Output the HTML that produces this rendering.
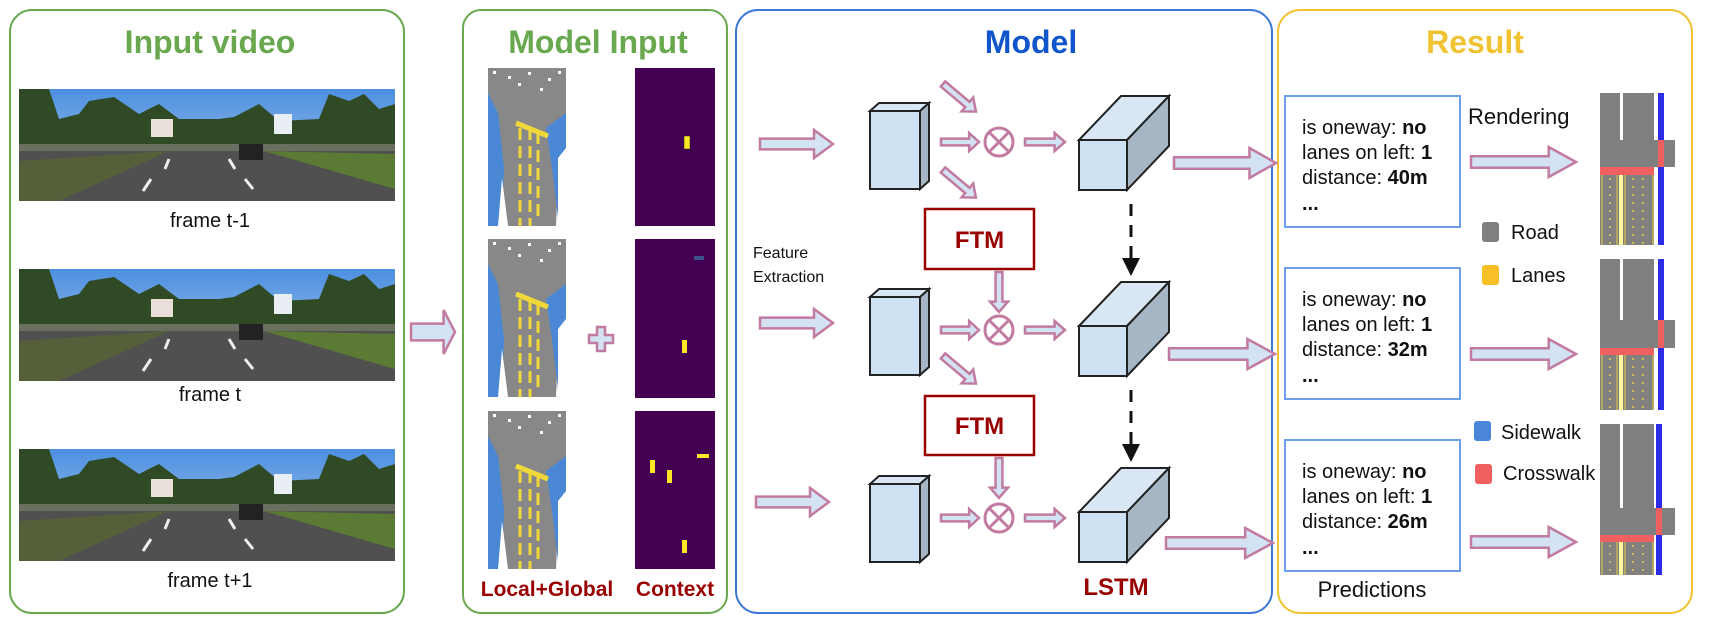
<!DOCTYPE html>
<html><head><meta charset="utf-8"><style>
html,body{margin:0;padding:0;background:#fff;}
svg{display:block;}
text{font-family:"Liberation Sans",sans-serif;}
</style></head><body>
<svg width="1724" height="617" viewBox="0 0 1724 617" xmlns="http://www.w3.org/2000/svg">
<defs>
<path id="ar" d="M0,-0.38 H0.74 V-1 L1,0 L0.74,1 V0.38 H0 Z" fill="#d3e3f3" stroke="#c27ba0" stroke-width="2.5" vector-effect="non-scaling-stroke"/>
<linearGradient id="sky" x1="0" y1="0" x2="0" y2="1"><stop offset="0" stop-color="#4d8fe0"/><stop offset="1" stop-color="#b9d3ee"/></linearGradient>
<g id="photo">
<rect width="376" height="112" fill="url(#sky)"/>
<path d="M0,0 H30 L40,30 L60,25 L70,12 L95,8 L120,25 L140,15 L160,30 L200,30 L215,28 L240,15 L260,32 L300,30 L310,5 L330,12 L345,5 L360,20 L376,15 V75 H0Z" fill="#2f4a25"/>
<rect x="132" y="30" width="22" height="18" fill="#e8e0d8"/>
<rect x="255" y="25" width="18" height="20" fill="#e8eef4"/>
<rect x="0" y="55" width="376" height="10" fill="#6a7060"/>
<path d="M0,62 H376 V112 H0Z" fill="#505050"/>
<path d="M0,72 L150,62 L40,112 H0Z" fill="#55603a"/>
<path d="M245,62 L376,65 V100 Z" fill="#5b7a33"/>
<path d="M150,70 L146,80 M132,90 L124,102 M210,70 L216,80 M226,90 L234,100" stroke="#eee" stroke-width="3"/>
<rect x="220" y="55" width="24" height="16" fill="#222"/>
</g>
<g id="lmap">
<rect width="78" height="158" fill="#fff"/>
<path d="M0,0 H78 V50 L72,70 L68,158 H0 Z" fill="#888"/>
<path d="M0,25 L10,45 L16,100 L14,158 H0Z" fill="#4a88d6"/>
<path d="M58,60 L78,45 V140 L70,150 L64,100Z" fill="#4a88d6"/>
<path d="M70,90 L78,80 V158 H70Z" fill="#fff"/>
<path d="M14,110 L20,158 H10Z" fill="#fff"/>
<path d="M5,3 h3 v3 h-3z M20,8 h3 v3 h-3z M40,4 h3 v3 h-3z M60,10 h3 v3 h-3z M70,3 h3 v3 h-3z M30,15 h3 v3 h-3z M52,20 h3 v3 h-3z" fill="#fff"/>
<path d="M28,55 L60,68" stroke="#f0d83a" stroke-width="5"/>
<path d="M32,60 V158 M42,60 V158 M50,64 V150" stroke="#f0d83a" stroke-width="3" stroke-dasharray="12,6"/>
</g>
<g id="cube">
<path d="M0,0 L9,-8 H59 L50,0Z" fill="#d9e7f5" stroke="#222" stroke-width="2"/>
<path d="M50,0 L59,-8 V70 L50,78Z" fill="#a6b6c5" stroke="#222" stroke-width="2"/>
<rect x="0" y="0" width="50" height="78" fill="#cfe2f3" stroke="#222" stroke-width="2"/>
</g>
<g id="lcube">
<path d="M0,0 L42,-44 H90 L48,0Z" fill="#d9e7f5" stroke="#222" stroke-width="2"/>
<path d="M48,0 L90,-44 V6 L48,50Z" fill="#a6b6c5" stroke="#222" stroke-width="2"/>
<rect x="0" y="0" width="48" height="50" fill="#cfe2f3" stroke="#222" stroke-width="2"/>
</g>
<g id="otimes"><circle r="14" fill="#fff" stroke="#c27ba0" stroke-width="3"/><path d="M-10,-10 L10,10 M10,-10 L-10,10" stroke="#c27ba0" stroke-width="3"/></g>
</defs>

<rect x="10" y="10" width="394" height="603" rx="22" fill="none" stroke="#6aa84f" stroke-width="2"/>
<rect x="463" y="10" width="264" height="603" rx="18" fill="none" stroke="#6aa84f" stroke-width="2"/>
<rect x="736" y="10" width="536" height="603" rx="22" fill="none" stroke="#3c78d8" stroke-width="2"/>
<rect x="1278" y="10" width="414" height="603" rx="22" fill="none" stroke="#f1c232" stroke-width="2"/>

<text x="210" y="53" font-size="32" font-weight="bold" fill="#6aa84f" text-anchor="middle">Input video</text>
<text x="598" y="53" font-size="32" font-weight="bold" fill="#6aa84f" text-anchor="middle">Model Input</text>
<text x="1031" y="53" font-size="32" font-weight="bold" fill="#1155cc" text-anchor="middle">Model</text>
<text x="1475" y="53" font-size="32" font-weight="bold" fill="#f1c232" text-anchor="middle">Result</text>

<use href="#photo" transform="translate(19,89)"/>
<use href="#photo" transform="translate(19,269)"/>
<use href="#photo" transform="translate(19,449)"/>
<text x="210" y="227" font-size="20" text-anchor="middle" fill="#111">frame t-1</text>
<text x="210" y="401" font-size="20" text-anchor="middle" fill="#111">frame t</text>
<text x="210" y="587" font-size="20" text-anchor="middle" fill="#111">frame t+1</text>
<use href="#ar" transform="translate(411,332) scale(44,22)"/>

<use href="#lmap" transform="translate(488,68)"/>
<use href="#lmap" transform="translate(488,239)"/>
<use href="#lmap" transform="translate(488,411)"/>
<rect x="635" y="68" width="80" height="158" fill="#440154"/>
<rect x="635" y="239" width="80" height="159" fill="#440154"/>
<rect x="635" y="411" width="80" height="158" fill="#440154"/>
<rect x="684" y="136" width="6" height="13" fill="#fde725" stroke="#222" stroke-width="0.5"/>
<rect x="694" y="256" width="10" height="4" fill="#3b528b"/>
<rect x="682" y="340" width="5" height="13" fill="#fde725"/>
<rect x="697" y="454" width="12" height="4" fill="#fde725"/>
<rect x="650" y="460" width="5" height="13" fill="#fde725"/>
<rect x="667" y="470" width="5" height="13" fill="#fde725"/>
<rect x="682" y="540" width="5" height="13" fill="#fde725"/>
<path d="M597,327 h8 v8 h8 v8 h-8 v8 h-8 v-8 h-8 v-8 h8 Z" fill="#d3e3f3" stroke="#c27ba0" stroke-width="2.5"/>
<text x="547" y="596" font-size="21" font-weight="bold" fill="#990000" text-anchor="middle">Local+Global</text>
<text x="675" y="596" font-size="21" font-weight="bold" fill="#990000" text-anchor="middle">Context</text>

<use href="#ar" transform="translate(760,144) scale(73,14)"/>
<use href="#ar" transform="translate(760,323) scale(73,14)"/>
<use href="#ar" transform="translate(756,502) scale(73,14)"/>
<text x="753" y="258" font-size="16" fill="#111">Feature</text>
<text x="753" y="282" font-size="16" fill="#111">Extraction</text>

<use href="#cube" transform="translate(870,111)"/>
<use href="#cube" transform="translate(870,297)"/>
<use href="#cube" transform="translate(870,484)"/>

<use href="#ar" transform="translate(941,142) scale(38,9)"/>
<use href="#ar" transform="translate(1025,142) scale(40,9)"/>
<use href="#ar" transform="translate(941,330) scale(38,9)"/>
<use href="#ar" transform="translate(1025,330) scale(40,9)"/>
<use href="#ar" transform="translate(941,518) scale(38,9)"/>
<use href="#ar" transform="translate(1025,518) scale(40,9)"/>
<use href="#ar" transform="translate(943,84) rotate(40) scale(43,9)"/>
<use href="#ar" transform="translate(943,170) rotate(40) scale(43,9)"/>
<use href="#ar" transform="translate(943,356) rotate(40) scale(43,9)"/>
<use href="#ar" transform="translate(999,272) rotate(90) scale(40,9)"/>
<use href="#ar" transform="translate(999,458) rotate(90) scale(40,9)"/>
<use href="#otimes" transform="translate(999,142)"/>
<use href="#otimes" transform="translate(999,330)"/>
<use href="#otimes" transform="translate(999,518)"/>

<rect x="925" y="209" width="109" height="60" fill="#fff" stroke="#990000" stroke-width="2.5"/>
<text x="979.5" y="248" font-size="24" font-weight="bold" fill="#990000" text-anchor="middle">FTM</text>
<rect x="925" y="396" width="109" height="59" fill="#fff" stroke="#990000" stroke-width="2.5"/>
<text x="979.5" y="434" font-size="24" font-weight="bold" fill="#990000" text-anchor="middle">FTM</text>

<use href="#lcube" transform="translate(1079,140)"/>
<use href="#lcube" transform="translate(1079,326)"/>
<use href="#lcube" transform="translate(1079,512)"/>
<path d="M1131,204 V258 M1131,390 V444" stroke="#111" stroke-width="3" stroke-dasharray="12,9"/>
<path d="M1122,258 H1140 L1131,276Z M1122,444 H1140 L1131,462Z" fill="#111"/>
<text x="1116" y="595" font-size="24" font-weight="bold" fill="#990000" text-anchor="middle">LSTM</text>

<use href="#ar" transform="translate(1174,163) scale(102,15)"/>
<use href="#ar" transform="translate(1169,354) scale(106,15)"/>
<use href="#ar" transform="translate(1166,543) scale(107,15)"/>

<g font-size="20" fill="#111">
<rect x="1285" y="96" width="175" height="131" fill="#fff" stroke="#6d9eeb" stroke-width="2"/>
<text x="1302" y="134">is oneway: <tspan font-weight="bold">no</tspan></text>
<text x="1302" y="159">lanes on left: <tspan font-weight="bold">1</tspan></text>
<text x="1302" y="184">distance: <tspan font-weight="bold">40m</tspan></text>
<text x="1302" y="210" font-weight="bold">...</text>
<rect x="1285" y="268" width="175" height="131" fill="#fff" stroke="#6d9eeb" stroke-width="2"/>
<text x="1302" y="306">is oneway: <tspan font-weight="bold">no</tspan></text>
<text x="1302" y="331">lanes on left: <tspan font-weight="bold">1</tspan></text>
<text x="1302" y="356">distance: <tspan font-weight="bold">32m</tspan></text>
<text x="1302" y="382" font-weight="bold">...</text>
<rect x="1285" y="440" width="175" height="131" fill="#fff" stroke="#6d9eeb" stroke-width="2"/>
<text x="1302" y="478">is oneway: <tspan font-weight="bold">no</tspan></text>
<text x="1302" y="503">lanes on left: <tspan font-weight="bold">1</tspan></text>
<text x="1302" y="528">distance: <tspan font-weight="bold">26m</tspan></text>
<text x="1302" y="554" font-weight="bold">...</text>
</g>
<text x="1468" y="124" font-size="22" fill="#111">Rendering</text>
<text x="1372" y="597" font-size="22" fill="#111" text-anchor="middle">Predictions</text>
<use href="#ar" transform="translate(1471,162) scale(105,15)"/>
<use href="#ar" transform="translate(1471,354) scale(105,15)"/>
<use href="#ar" transform="translate(1471,542) scale(105,15)"/>

<g font-size="20" fill="#111">
<rect x="1482" y="222" width="17" height="20" rx="3" fill="#808080"/><text x="1511" y="239">Road</text>
<rect x="1482" y="265" width="17" height="20" rx="3" fill="#f6c026"/><text x="1511" y="282">Lanes</text>
<rect x="1474" y="421" width="17" height="20" rx="3" fill="#4a86d8"/><text x="1501" y="439">Sidewalk</text>
<rect x="1475" y="464" width="17" height="20" rx="3" fill="#f06060"/><text x="1503" y="480">Crosswalk</text>
</g>

<g>
<rect x="1600" y="93" width="54" height="152" fill="#808080"/>
<rect x="1620" y="93" width="3" height="47" fill="#fff"/>
<rect x="1658" y="93" width="6" height="152" fill="#2b2be8"/>
<rect x="1654" y="140" width="21" height="27" fill="#808080"/>
<rect x="1658" y="140" width="6" height="27" fill="#f06060"/>
<rect x="1600" y="167" width="54" height="8" fill="#f06060"/>
<rect x="1619" y="175" width="4" height="70" fill="#fff8a0"/>
<path d="M1602,175 V245 M1653,175 V245 M1617,175 V245 M1625,175 V245" stroke="#e8d040" stroke-width="1"/>
<path d="M1610,178 V245 M1633,178 V245 M1643,178 V245" stroke="#e8d040" stroke-width="1.5" stroke-dasharray="2,6"/>
</g>
<g>
<rect x="1600" y="259" width="54" height="151" fill="#808080"/>
<rect x="1620" y="259" width="3" height="61" fill="#fff"/>
<rect x="1658" y="259" width="6" height="151" fill="#2b2be8"/>
<rect x="1654" y="320" width="21" height="28" fill="#808080"/>
<rect x="1658" y="320" width="6" height="28" fill="#f06060"/>
<rect x="1600" y="348" width="54" height="7" fill="#f06060"/>
<rect x="1619" y="355" width="4" height="55" fill="#fff8a0"/>
<path d="M1602,355 V410 M1653,355 V410 M1617,355 V410 M1625,355 V410" stroke="#e8d040" stroke-width="1"/>
<path d="M1610,358 V410 M1633,358 V410 M1643,358 V410" stroke="#e8d040" stroke-width="1.5" stroke-dasharray="2,6"/>
</g>
<g>
<rect x="1600" y="424" width="54" height="151" fill="#808080"/>
<rect x="1620" y="424" width="3" height="84" fill="#fff"/>
<rect x="1656" y="424" width="6" height="151" fill="#2b2be8"/>
<rect x="1654" y="508" width="21" height="27" fill="#808080"/>
<rect x="1656" y="508" width="6" height="27" fill="#f06060"/>
<rect x="1600" y="535" width="54" height="7" fill="#f06060"/>
<rect x="1619" y="542" width="4" height="33" fill="#fff8a0"/>
<path d="M1602,542 V575 M1653,542 V575 M1617,542 V575 M1625,542 V575" stroke="#e8d040" stroke-width="1"/>
<path d="M1610,545 V575 M1633,545 V575 M1643,545 V575" stroke="#e8d040" stroke-width="1.5" stroke-dasharray="2,6"/>
</g>
</svg>
</body></html>
